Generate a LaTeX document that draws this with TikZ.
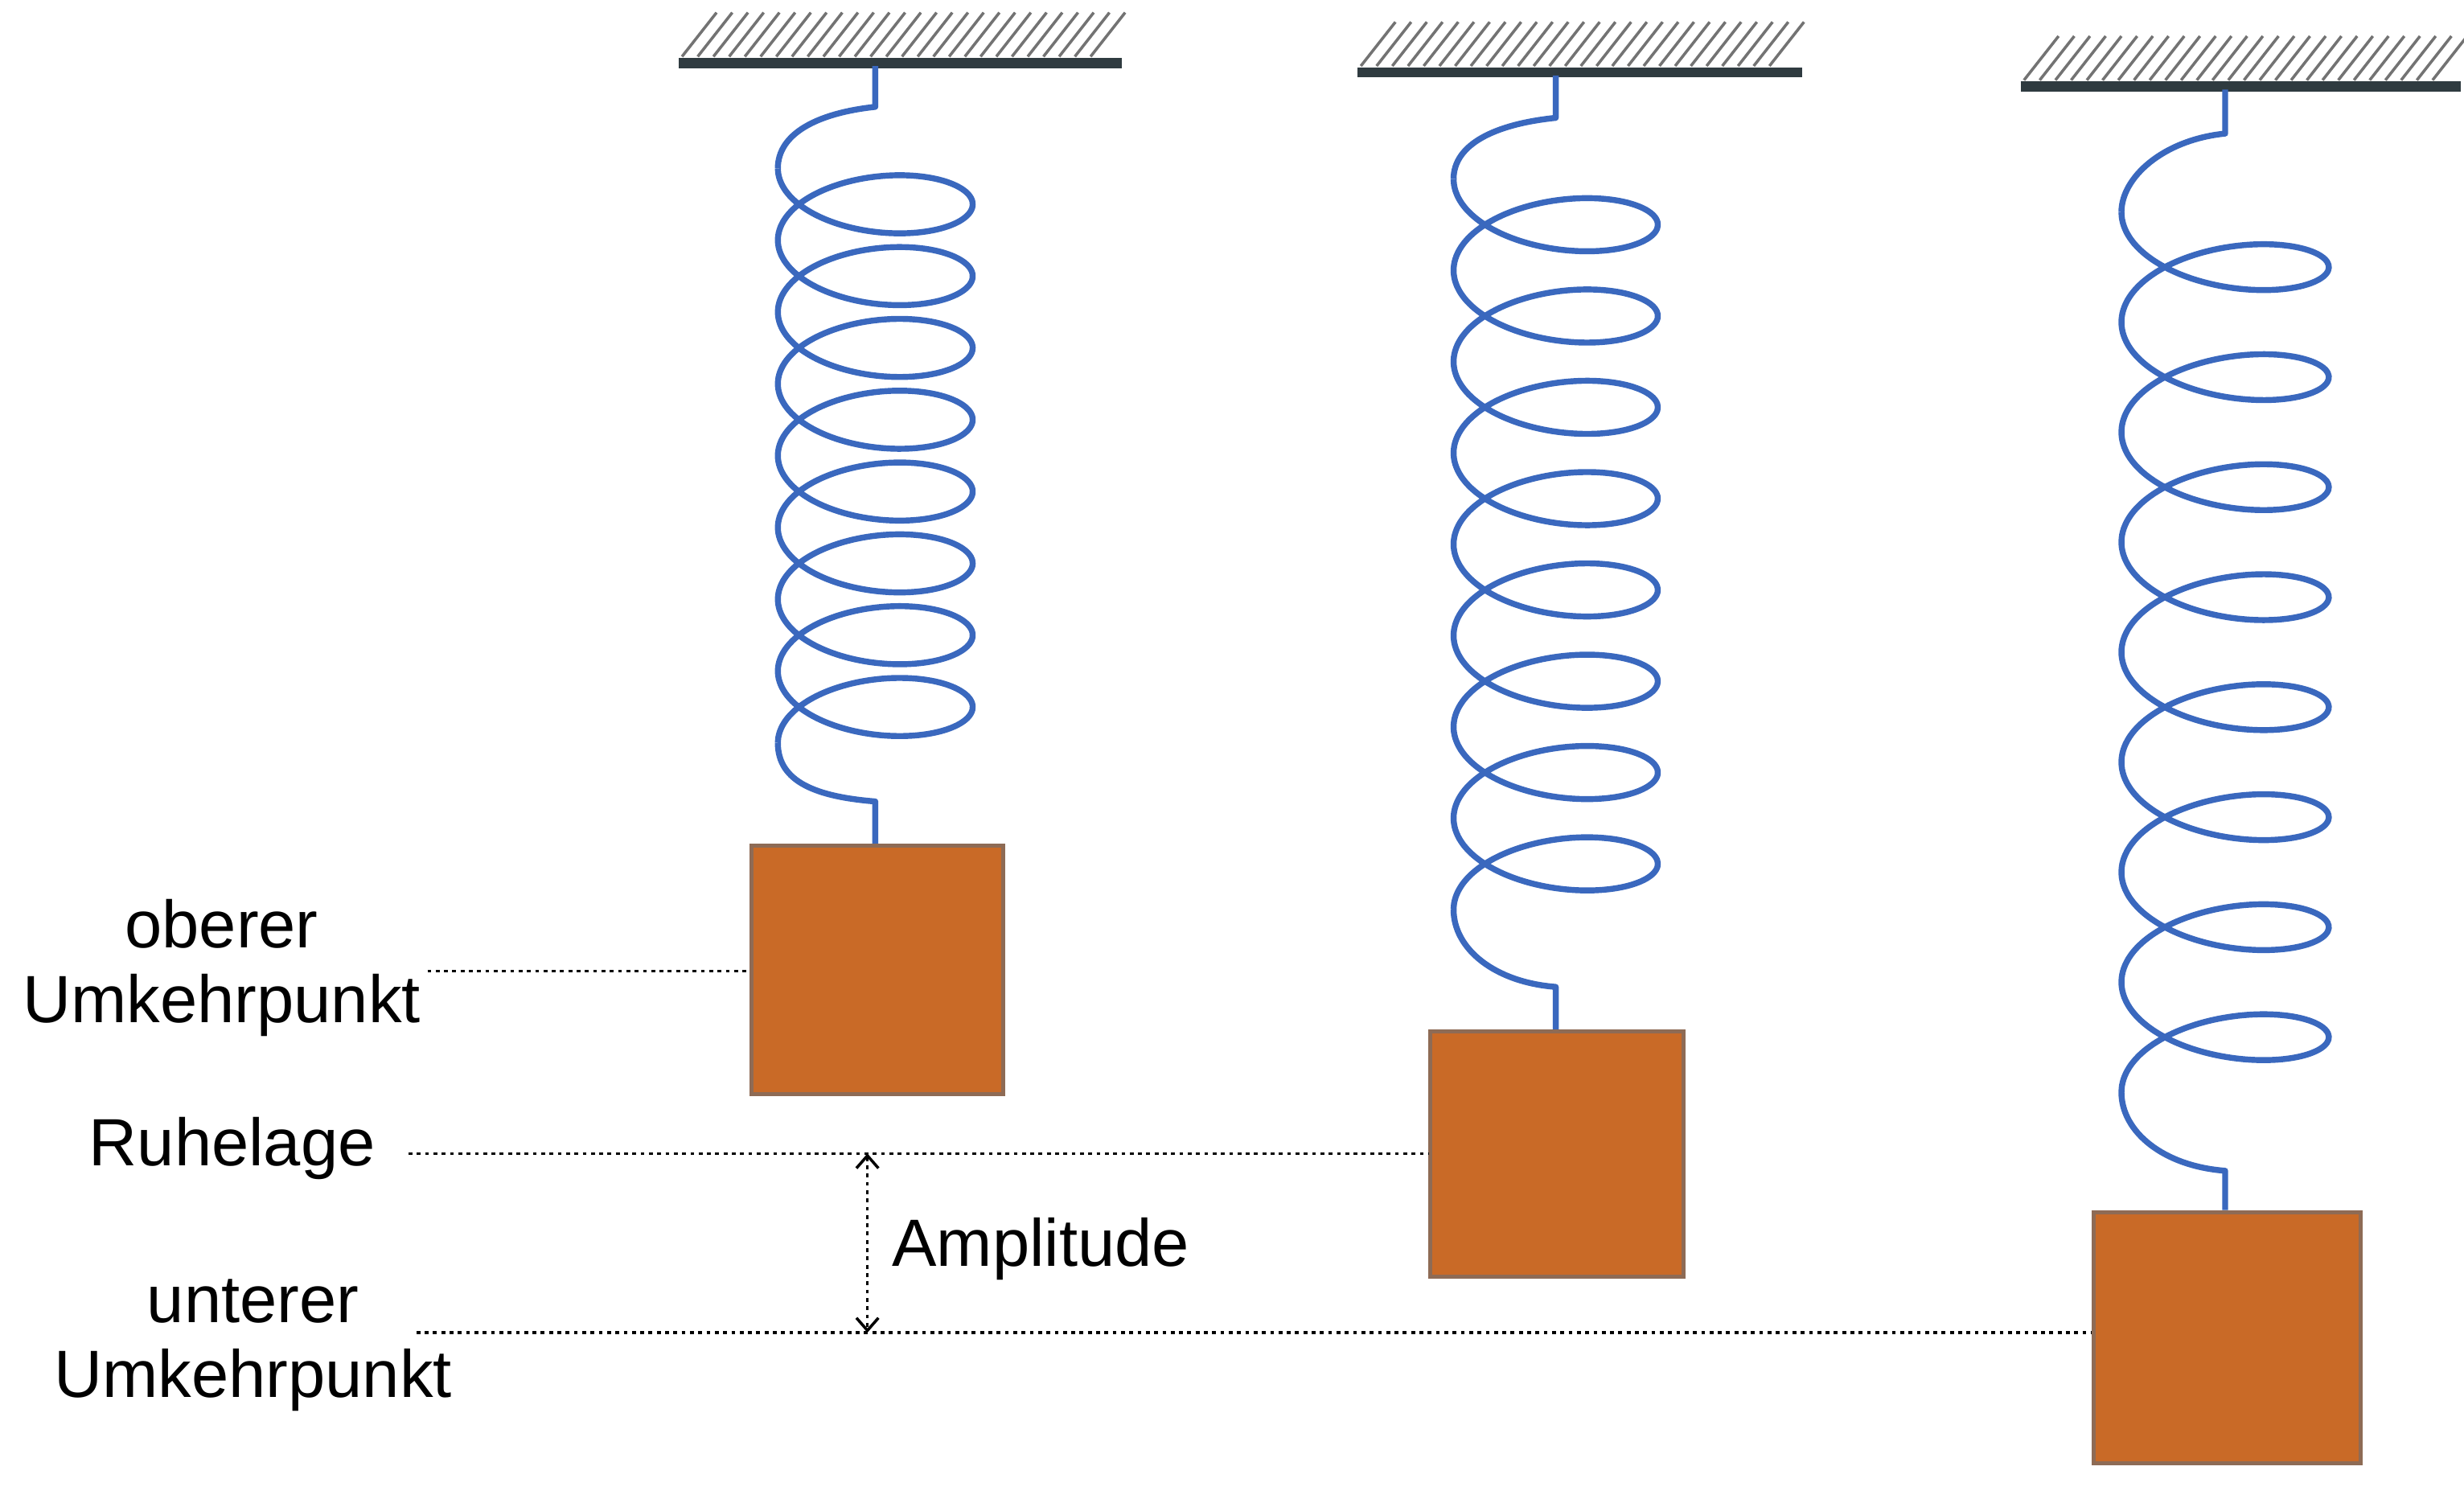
\documentclass[tikz,border=0pt]{standalone}
\usepackage{fontspec}
\setmainfont{Liberation Sans}
\usetikzlibrary{arrows.meta}
\begin{document}
\begin{tikzpicture}[x=0.01cm,y=-0.01cm,
  spring/.style={draw=springblue,line width=0.038cm,line join=round},
  ceil/.style={draw=ceilgray,line width=0.065cm},
  hatch/.style={draw=gray!90!black,line width=0.018cm},
  block/.style={draw=blockedge,fill=blockfill,line width=0.025cm,minimum width=1.6cm,minimum height=1.58cm,inner sep=0pt},
  lab/.style={font=\fontsize{12.1pt}{13.6pt}\selectfont,inner sep=0pt,align=center},
  dots/.style={draw=black,line width=0.018cm,dash pattern=on 0.7pt off 0.8pt}]
\definecolor{springblue}{HTML}{3A68BE}
\definecolor{ceilgray}{HTML}{2F3B40}
\definecolor{blockfill}{HTML}{C96A27}
\definecolor{blockedge}{HTML}{8E6B55}
\useasboundingbox (0,0) rectangle (1568,946);
% ceilings
\foreach \xa/\xb/\yc in {432/714/40, 864/1147/46, 1286/1566/55}{
  \pgfmathsetmacro{\n}{int((\xb-\xa-20)/10)}
  \foreach \i in {0,...,\n}{
    \draw[hatch] ({\xa+10*\i+2},{\yc-4}) -- ({\xa+10*\i+24},{\yc-32});
  }
  \draw[ceil] (\xa,\yc) -- (\xb,\yc);
}
% springs
\foreach \cx/\a/\yt/\yh/\yo/\s/\ytl/\yb/\bb in {557/62/42/68/130/45.7/510/537/29, 990/65/48/75/143/58.1/628/655/30, 1416/66/57/85/170/70/745/770/30}{
  \pgfmathsetmacro{\yL}{\yo-\s/2}
  \pgfmathsetmacro{\yE}{\yo+7.5*\s}
  \draw[spring] (\cx,\yt) -- (\cx,\yh)
     .. controls ({\cx-0.6*\a},{\yh+4}) and ({\cx-\a},{\yL-22}) .. ({\cx-\a},\yL);
  \draw[spring] plot[domain=-180:2700,samples=500,smooth] ({\cx+\a*cos(\x)},{\yo+\x/360*\s-\bb*sin(\x)});
  \draw[spring] ({\cx-\a},\yE) .. controls ({\cx-\a},{\yE+25}) and ({\cx-0.6*\a},{\ytl-3}) .. (\cx,\ytl) -- (\cx,\yb);
}
% blocks
\node[block,anchor=north west] (b1) at (477,537) {};
\node[block,anchor=north west,minimum height=1.56cm,minimum width=1.61cm] (b2) at (909,655) {};
\node[block,anchor=north west,minimum height=1.6cm,minimum width=1.7cm] (b3) at (1331,770) {};
% labels
\node[lab] (ob) at (141,616) {oberer\\Umkehrpunkt};
\node[lab,anchor=west] (ru) at (56,731) {Ruhelage};
\node[lab] (un) at (161,856) {unterer\\Umkehrpunkt};
\node[lab,anchor=west] (am) at (567,795) {Amplitude};
% dotted lines
\coordinate (c1) at (272,618);
\coordinate (c2) at (260,734);
\coordinate (c3) at (265,848);
\draw[dots] (c1) -- (c1 -| b1.west);
\draw[dots] (c2) -- (c2 -| b2.west);
\draw[dots] (c3) -- (c3 -| b3.west);
\coordinate (a1) at (552,734);
\coordinate (a2) at (552,848);
\draw[dots,<->,>={Straight Barb[length=0.08cm,width=0.14cm]}] (a1) -- (a2);
\end{tikzpicture}
\end{document}
